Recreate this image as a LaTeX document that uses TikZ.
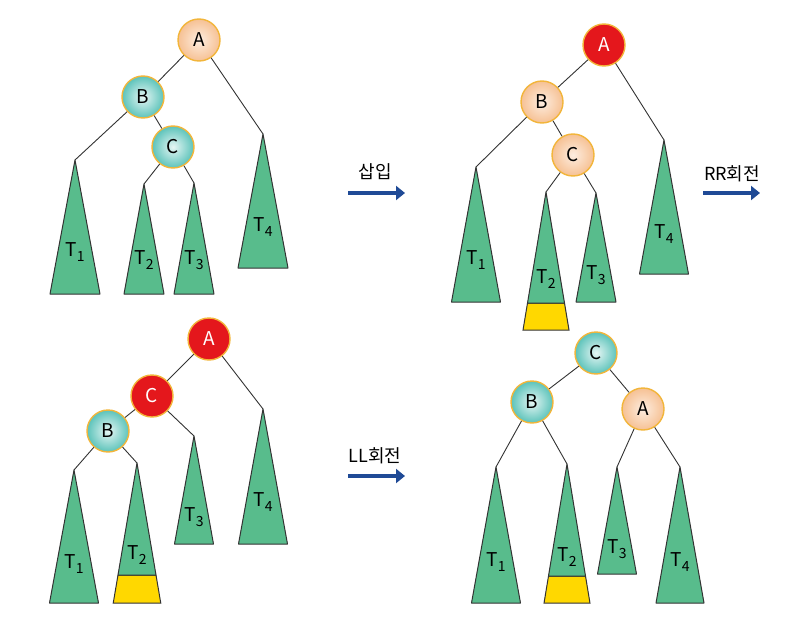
\documentclass[tikz,border=0pt]{standalone}
\usepackage{fontspec}
\setmainfont{Noto Sans CJK KR}
\usetikzlibrary{arrows.meta}
\definecolor{treegreen}{HTML}{58BC8C}
\definecolor{treeline}{HTML}{333333}
\definecolor{insyellow}{HTML}{FFD800}
\definecolor{rimgold}{HTML}{F2B53A}
\definecolor{tealout}{HTML}{5CC3BA}
\definecolor{tealin}{HTML}{E6F6F4}
\definecolor{peachout}{HTML}{F6C194}
\definecolor{peachin}{HTML}{FDEDE0}
\definecolor{hotred}{HTML}{E4171C}
\definecolor{arrblue}{HTML}{1F4A96}

\newcommand{\tsub}[1]{T\raisebox{-0.45ex}{\fontsize{14}{14}\selectfont #1}}
% #1 name, #2 x, #3 apex y, #4 base y, #5 half width, #6 label base y, #7 index
\newcommand{\subtree}[7]{%
  \coordinate (#1) at (#2,#3);
  \draw[tri] (#1) -- ({#2-#5},#4) -- ({#2+#5},#4) -- cycle;
  \node[tlabel] (#1-l) at (#2,#6) {\tsub{#7}};}
% #1 x, #2 apex y, #3 base y, #4 half width, #5 bottom y
\newcommand{\inserted}[5]{%
  \draw[ins] ({#1-#4},#3) -- ({#1+#4},#3)
    -- ({#1+#4*(#5-#2)/(#3-#2)},#5) -- ({#1-#4*(#5-#2)/(#3-#2)},#5) -- cycle;}

\begin{document}
\begin{tikzpicture}[x=1pt, y=-1pt,
    vtx/.style={circle, minimum size=42pt, inner sep=0pt, draw=rimgold,
      line width=1.4pt, font=\fontsize{19}{19}\selectfont},
    tealv/.style={vtx, inner color=tealin, outer color=tealout},
    peachv/.style={vtx, inner color=peachin, outer color=peachout},
    redv/.style={vtx, fill=hotred, text=white},
    tri/.style={fill=treegreen, draw=treeline, line width=1pt, line join=round},
    ins/.style={fill=insyellow, draw=treeline, line width=1pt},
    tlabel/.style={anchor=base, inner sep=0pt, font=\fontsize{19}{19}\selectfont},
    link/.style={draw=treeline, line width=0.9pt},
    bigarr/.style={-{Triangle[length=9pt, width=14pt]}, arrblue, line width=4.5pt},
    step label/.style={font=\fontsize{18}{18}\selectfont}]
  \useasboundingbox (0,0) rectangle (787,626);

  % before insertion
  \node[peachv] (a1) at (199,40)  {A};
  \node[tealv]  (b1) at (143,97)  {B};
  \node[tealv]  (c1) at (173,147) {C};
  \subtree{s11}{75}{160}{294}{25}{256.5}{1}
  \subtree{s12}{144}{184}{294}{20}{264.5}{2}
  \subtree{s13}{194}{183}{294}{20}{264.5}{3}
  \subtree{s14}{263}{134}{268}{25}{231.5}{4}
  \draw[link] (a1) -- (b1);
  \draw[link] (a1) -- (s14);
  \draw[link] (b1) -- (s11);
  \draw[link] (b1) -- (c1);
  \draw[link] (c1) -- (s12);
  \draw[link] (c1) -- (s13);

  % after insertion
  \node[redv]   (a2) at (604,45)  {A};
  \node[peachv] (b2) at (542,102) {B};
  \node[peachv] (c2) at (573,155) {C};
  \inserted{546}{192}{303}{18.5}{330}
  \subtree{s21}{476}{167}{302}{24.5}{264.5}{1}
  \subtree{s22}{546}{192}{303}{18.5}{283.5}{2}
  \subtree{s23}{596}{193}{302}{20}{279.5}{3}
  \subtree{s24}{664}{140}{274}{24.5}{238.5}{4}
  \draw[link] (a2) -- (b2);
  \draw[link] (a2) -- (s24);
  \draw[link] (b2) -- (s21);
  \draw[link] (b2) -- (c2);
  \draw[link] (c2) -- (s22);
  \draw[link] (c2) -- (s23);

  % after RR rotation
  \node[redv]  (a3) at (209,339) {A};
  \node[redv]  (c3) at (152,396) {C};
  \node[tealv] (b3) at (108,431) {B};
  \inserted{137}{463}{575}{19}{603}
  \subtree{s31}{74}{470}{603}{24.5}{568.5}{1}
  \subtree{s32}{137}{463}{575}{19}{559.5}{2}
  \subtree{s33}{194}{436}{544}{19.5}{521.5}{3}
  \subtree{s34}{263}{409}{544}{24.5}{506.5}{4}
  \draw[link] (a3) -- (c3);
  \draw[link] (a3) -- (s34);
  \draw[link] (c3) -- (b3);
  \draw[link] (c3) -- (s33);
  \draw[link] (b3) -- (s31);
  \draw[link] (b3) -- (s32);

  % after LL rotation
  \node[tealv]  (c4) at (596,353) {C};
  \node[tealv]  (b4) at (532,402) {B};
  \node[peachv] (a4) at (643,409) {A};
  \inserted{567}{464}{576}{18.5}{603}
  \subtree{s41}{496}{467}{603}{24.5}{566.5}{1}
  \subtree{s42}{567}{464}{576}{18.5}{561.5}{2}
  \subtree{s43}{617}{467}{574}{19.5}{553.5}{3}
  \subtree{s44}{680}{467}{603}{24}{566.5}{4}
  \draw[link] (c4) -- (b4);
  \draw[link] (c4) -- (a4);
  \draw[link] (b4) -- (s41);
  \draw[link] (b4) -- (s42);
  \draw[link] (a4) -- (s43);
  \draw[link] (a4) -- (s44);

  % steps
  \coordinate (ins-s) at (348,193);
  \coordinate (ins-e) at (405,193);
  \node[step label] (ins-l) at (375,172) {삽입};
  \draw[bigarr] (ins-s) -- (ins-e);
  \coordinate (rr-s) at (703,193);
  \coordinate (rr-e) at (760,193);
  \node[step label] (rr-l) at (732,174) {RR회전};
  \draw[bigarr] (rr-s) -- (rr-e);
  \coordinate (ll-s) at (348,476);
  \coordinate (ll-e) at (405,476);
  \node[step label] (ll-l) at (375,456) {LL회전};
  \draw[bigarr] (ll-s) -- (ll-e);
\end{tikzpicture}
\end{document}
